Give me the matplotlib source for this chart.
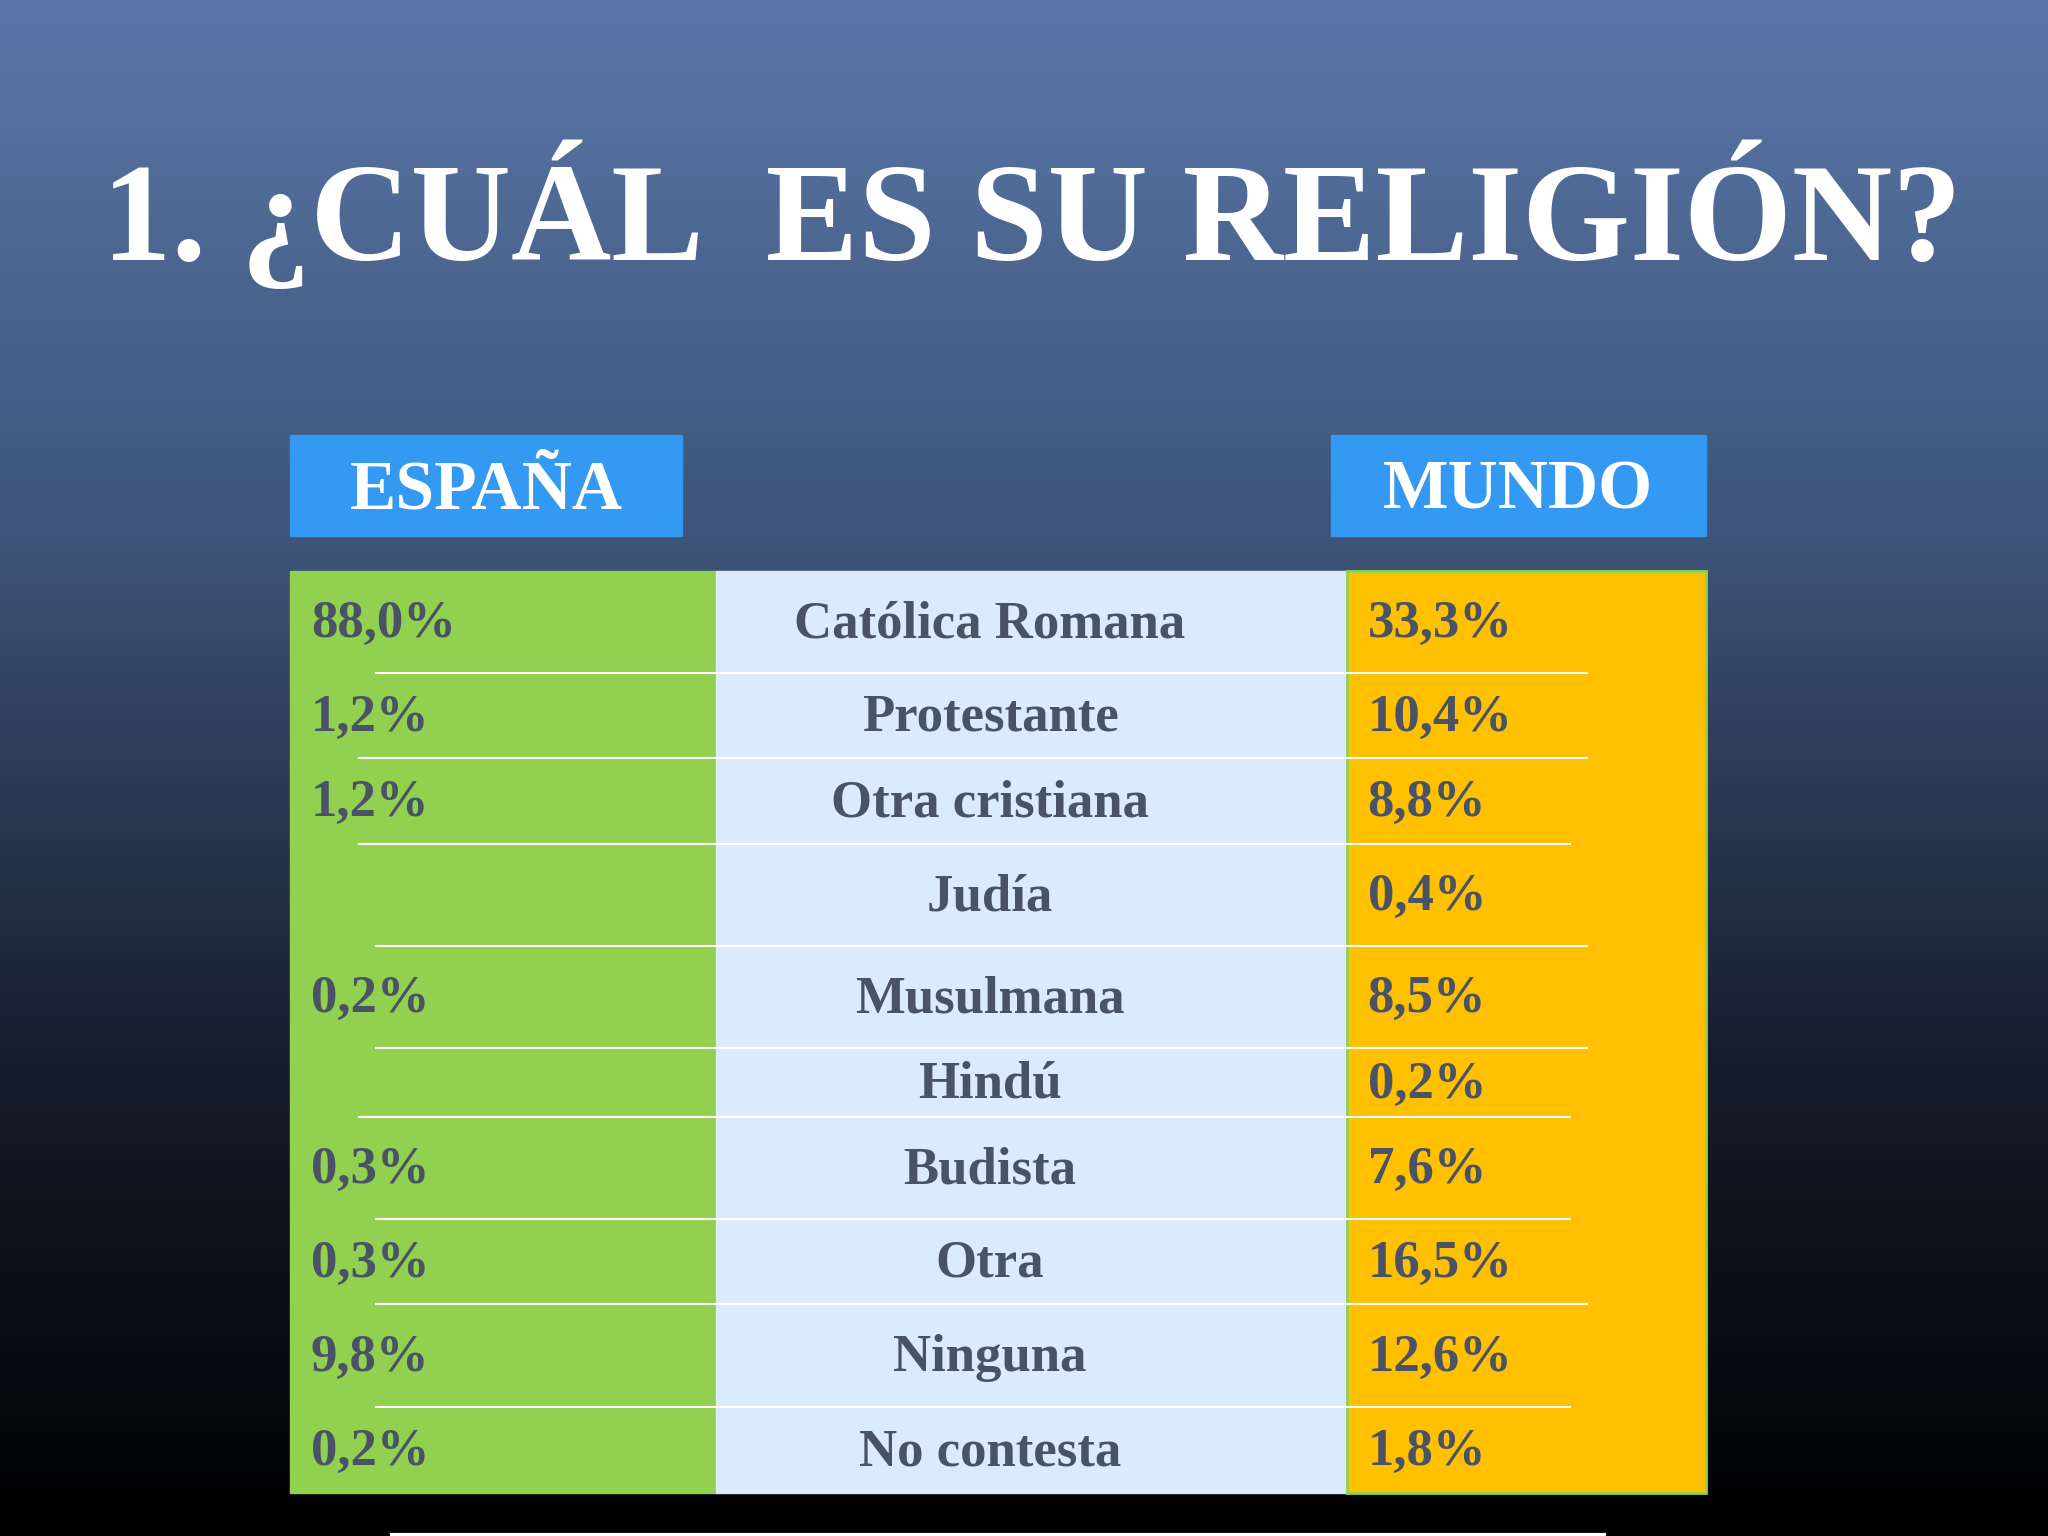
import matplotlib
matplotlib.use("Agg")
import matplotlib.pyplot as plt
import numpy as np
from matplotlib.colors import LinearSegmentedColormap

title = "1. ¿CUÁL  ES SU RELIGIÓN?"
header_left = "ESPAÑA"
header_right = "MUNDO"
categories = ["Católica Romana", "Protestante", "Otra cristiana", "Judía", "Musulmana",
              "Hindú", "Budista", "Otra", "Ninguna", "No contesta"]
espana = ["88,0%", "1,2%", "1,2%", "", "0,2%", "", "0,3%", "0,3%", "9,8%", "0,2%"]
mundo = ["33,3%", "10,4%", "8,8%", "0,4%", "8,5%", "0,2%", "7,6%", "16,5%", "12,6%", "1,8%"]

# layout (in 1568x1176 reference coordinates)
row_edges = [437, 515, 580, 646, 724, 802, 855, 933, 998, 1077, 1143]
left_line_start = [288, 275, 275, 288, 288, 275, 288, 288, 288]
right_line_end = [1215, 1215, 1202, 1215, 1215, 1202, 1202, 1215, 1202]

fig = plt.figure(figsize=(20.48, 15.36), dpi=100)
ax = fig.add_axes([0, 0, 1, 1])
ax.set_xlim(0, 1568); ax.set_ylim(1176, 0); ax.axis("off")

cmap = LinearSegmentedColormap.from_list("bg", [(0, "#5a77a8"), (0.35, "#3e5478"), (0.7, "#151c2a"), (1, "#000000")])
grad = np.linspace(0, 1, 256).reshape(-1, 1)
ax.imshow(grad, cmap=cmap, extent=[0, 1568, 1176, 0], aspect="auto", zorder=0)

serif = "Liberation Serif"
ax.text(790, 165, title, ha="center", va="center", color="white", fontsize=100,
        fontweight="bold", family=serif)

for x0, x1, t in [(222, 522, header_left), (1019, 1306, header_right)]:
    ax.add_patch(plt.Rectangle((x0, 333), x1 - x0, 77, color="#3399f3", zorder=2))
    ax.text((x0 + x1) / 2, 376, t, ha="center", va="center", color="white", fontsize=50,
            fontweight="bold", family=serif, zorder=3)

top, bot = row_edges[0], row_edges[-1]
ax.add_patch(plt.Rectangle((222, top), 326, bot - top, color="#92d050", zorder=2))
ax.add_patch(plt.Rectangle((548, top), 483, bot - top, color="#dbeafc", zorder=2))
ax.add_patch(plt.Rectangle((1031, top), 275, bot - top, color="#ffc000", zorder=2))
ax.add_patch(plt.Rectangle((1031, top), 275, bot - top, fill=False, ec="#92d050", lw=2, zorder=3))

for i, y in enumerate(row_edges[1:-1]):
    ax.plot([left_line_start[i], 548], [y, y], color="white", lw=1.5, zorder=3)
    ax.plot([548, 1031], [y, y], color="white", lw=1.5, zorder=3)
    ax.plot([1031, right_line_end[i]], [y, y], color="white", lw=1.5, zorder=3)

tc = "#4a5366"
for i, (c, e, m) in enumerate(zip(categories, espana, mundo)):
    yc = (row_edges[i] + row_edges[i + 1]) / 2 + 2
    kw = dict(va="center", color=tc, fontsize=38, fontweight="bold", family=serif, zorder=4)
    ax.text(238, yc, e, ha="left", **kw)
    ax.text(758, yc, c, ha="center", **kw)
    ax.text(1047, yc, m, ha="left", **kw)

ax.plot([300, 1228], [1175, 1175], color="white", lw=3, zorder=3)
fig.savefig("out.png", dpi=100)
